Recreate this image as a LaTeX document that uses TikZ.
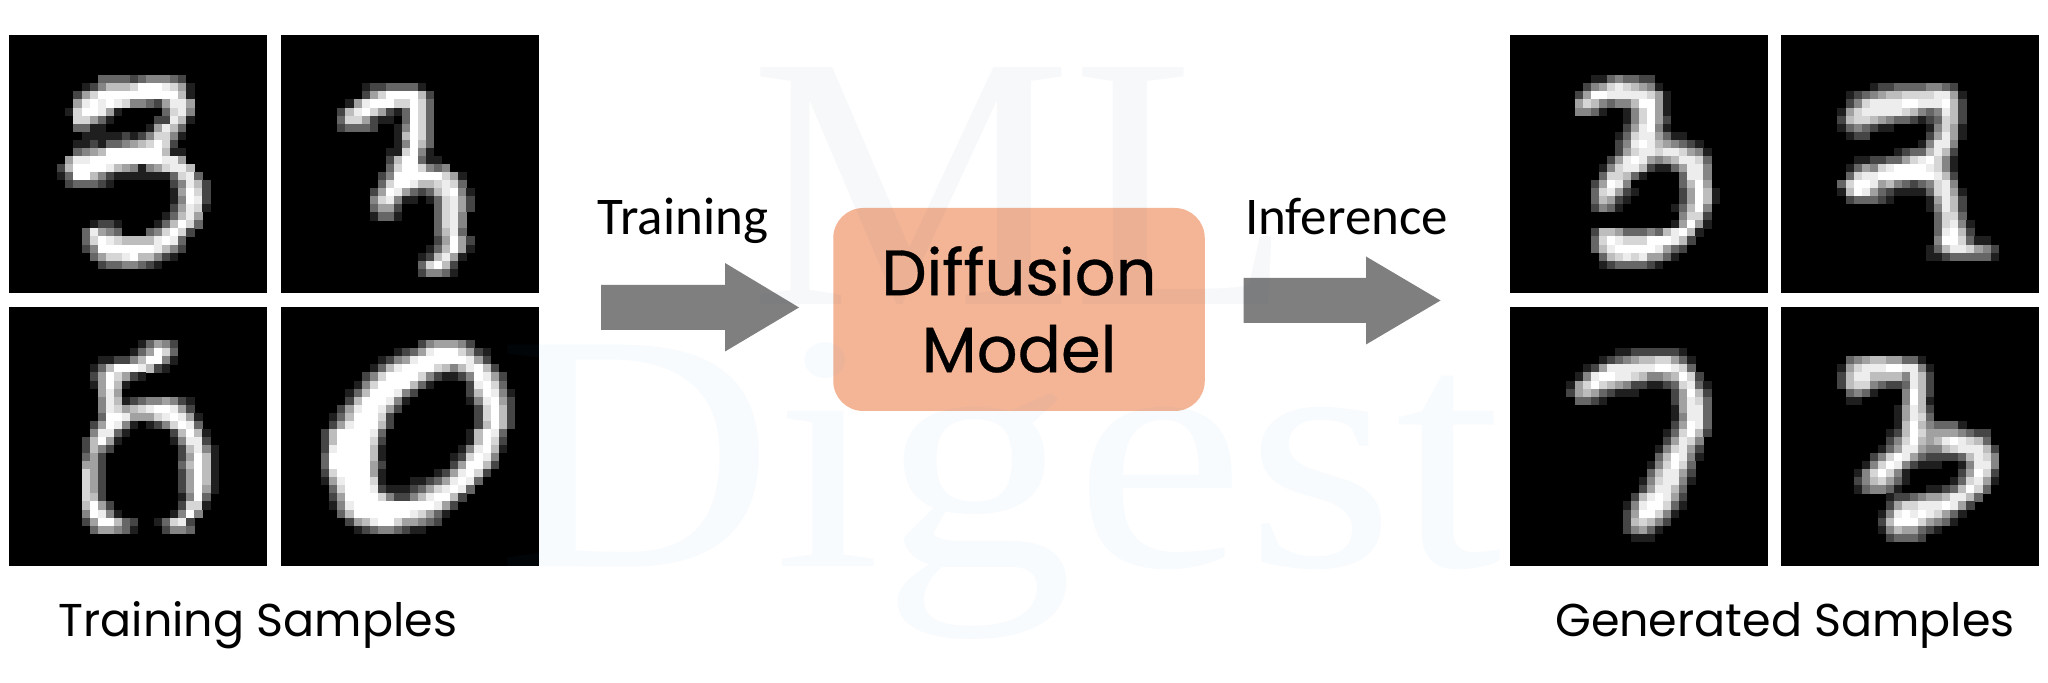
\documentclass[tikz,border=0pt]{standalone}
\usepackage{fontspec}
\setmainfont{Liberation Serif}
\newfontfamily\handfont{Poppins}
\newfontfamily\handboldfont[FakeBold=0.5]{Poppins}
\newfontfamily\labelfont{Carlito}
\definecolor{dg1}{gray}{0.12}
\definecolor{dg2}{gray}{0.27}
\definecolor{dg3}{gray}{0.40}
\definecolor{dg4}{gray}{0.52}
\definecolor{dg5}{gray}{0.63}
\definecolor{dg6}{gray}{0.74}
\definecolor{dg7}{gray}{0.84}
\definecolor{dg8}{gray}{0.93}
\definecolor{dg9}{gray}{1}
\definecolor{boxfill}{HTML}{F4B596}
\definecolor{arrowgray}{HTML}{7F7F7F}
\definecolor{markone}{HTML}{2F4F70}
\definecolor{marktwo}{HTML}{3F8FE0}
\newcount\dgc
\newcount\dgr
\newcommand\dgbegin[4]{\def\dgX{#1}\def\dgY{#2}\def\dgcz{#3}\dgr=#4\relax}
\newcommand\dr[1]{\dgc=\dgcz\relax\dgloop#1\relax\advance\dgr by 1\relax}
\def\dgloop#1{\ifx#1\relax\else\ifx#1.\else\fill[dg#1] ({\dgX+8.06*\the\dgc},{\dgY+8.06*\the\dgr}) rectangle ++(8.2,8.2);\fi\advance\dgc by 1\relax\expandafter\dgloop\fi}
\tikzset{
  panel/.style={fill=black,inner sep=0pt,outer sep=0pt,minimum width=129pt,minimum height=129pt,anchor=north west},
  modelbox/.style={fill=boxfill,rounded corners=15pt,inner sep=0pt,minimum width=185.75pt,minimum height=101.5pt,align=center},
  blockarrow/.style={fill=arrowgray},
  handtext/.style={inner sep=0pt,anchor=base,font=\handfont\fontsize{23}{28}\selectfont},
  steplabel/.style={inner sep=0pt,anchor=base,font=\labelfont\fontsize{26.5}{32}\selectfont},
  watermark/.style={inner sep=0pt,anchor=base west}
}
\begin{document}
\begin{tikzpicture}[x=0.5pt,y=-0.5pt]
\useasboundingbox (0,0) rectangle (2048,683);
\fill[white] (0,0) rectangle (2048,683);
% model box and arrows
\node[modelbox] (model) at (1019,309.5) {};
\fill[blockarrow] (601,285) -- (725,285) -- (725,263) -- (799,307.5) -- (725,351.5) -- (725,330) -- (601,330) -- cycle;
\fill[blockarrow] (1243.5,278) -- (1366,278) -- (1366,256.5) -- (1440.5,300.5) -- (1366,344.5) -- (1366,323) -- (1243.5,323) -- cycle;
% panels
\node[panel] (p1) at (9,35) {};
\node[panel] (p2) at (281,35) {};
\node[panel] (p3) at (9,307.5) {};
\node[panel] (p4) at (281,307.5) {};
\node[panel] (p5) at (1510,35) {};
\node[panel] (p6) at (1781,35) {};
\node[panel] (p7) at (1510,307.5) {};
\node[panel] (p8) at (1781,307.5) {};
% digit 3
\dgbegin{9}{35}{6}{5}
\dr{.....33332344432}
\dr{...12466679998751}
\dr{..257999999999961}
\dr{..589898744325885}
\dr{.1799851.....3784}
\dr{..77531.....22861}
\dr{..3311.....15863}
\dr{...1111121247741}
\dr{..1121334567972}
\dr{..34569999999611}
\dr{.588999999999885}
\dr{26999986541457886}
\dr{139964211111113783}
\dr{.233321.......24862}
\dr{..............15972}
\dr{..............14982}
\dr{..............25871}
\dr{.............13685}
\dr{....1221....136973}
\dr{...38543...347972}
\dr{...3798766668983}
\dr{...2499999998642}
\dr{....35778966421}
\dr{.....23344321}
% digit 3b
\dgbegin{281}{35}{7}{6}
\dr{...12233331}
\dr{...257999962}
\dr{.15899977973}
\dr{268975213973}
\dr{3775211.3973}
\dr{23332..14973}
\dr{.......16973}
\dr{.......14963}
\dr{......117941}
\dr{......2699311}
\dr{......37997434}
\dr{.....24999999751}
\dr{.....37998667873}
\dr{....2598532368941}
\dr{....478411.137852}
\dr{....3552....37852}
\dr{....1331....3784}
\dr{............3784}
\dr{............3683}
\dr{............25952}
\dr{...........136951}
\dr{..........126851}
\dr{..........37962}
\dr{..........24431}
% digit 5
\dgbegin{9}{308}{9}{4}
\dr{.......13542}
\dr{......135973}
\dr{..1122469941}
\dr{.1369998621}
\dr{.2597521}
\dr{.15961}
\dr{..585}
\dr{..486123445421}
\dr{..487567899852}
\dr{..3998555789851}
\dr{.259841.1247983}
\dr{.48831.....26961}
\dr{26951......14882}
\dr{2642........26841}
\dr{352.........25961}
\dr{552.........36961}
\dr{752.........25961}
\dr{752.........25961}
\dr{752.........25951}
\dr{762.........1493}
\dr{6952........2771}
\dr{49841......1494}
\dr{2599632..13782}
\dr{.355431...2443}
% digit 0
\dgbegin{281}{308}{5}{4}
\dr{............2455542}
\dr{.........123589997521}
\dr{.......12458999999852}
\dr{......1368999976468962}
\dr{.....247999974211249852}
\dr{....1479999631....28973}
\dr{...136999842......269841}
\dr{...26999841.......148952}
\dr{..25899852.........27962}
\dr{.13699972..........27962}
\dr{.25899962..........26962}
\dr{26999983..........16983}
\dr{26999972..........16972}
\dr{28999961.........148961}
\dr{39999961........127984}
\dr{39999952........259962}
\dr{27999951......1258972}
\dr{15899971...112358983}
\dr{.379998211123578983}
\dr{.25999974224689962}
\dr{.1489999999999852}
\dr{..36999999987531}
\dr{...256899755432}
\dr{....123443211}
% generated 3
\dgbegin{1510}{35}{8}{5}
\dr{..11343322}
\dr{.2457876541}
\dr{259988888751}
\dr{576434469951}
\dr{4431..147951}
\dr{......147952}
\dr{......258941}
\dr{.....137885311}
\dr{.....24898654321}
\dr{.....257887887541}
\dr{....2589854568873}
\dr{...14788621135884}
\dr{...377631....3884}
\dr{..25984......3695}
\dr{..378521.....25961}
\dr{..36521......25961}
\dr{..2431......13694}
\dr{.............4772}
\dr{............15951}
\dr{..26653334368961}
\dr{..3798777999862}
\dr{..368999998532}
\dr{...3678785531}
\dr{...12333321}
% generated 7-like
\dgbegin{1781}{35}{7}{6}
\dr{....12233334432}
\dr{.123456677778851}
\dr{.247888899888962}
\dr{1578888876434862}
\dr{2677654332123762}
\dr{1343211....14751}
\dr{.122.......25851}
\dr{..........14884}
\dr{.......12336862}
\dr{..1122335789741}
\dr{.13547899998741}
\dr{.37889999999862}
\dr{379985643234784}
\dr{1698532111137851}
\dr{.233321....15862}
\dr{...........14862}
\dr{............3773}
\dr{............37841}
\dr{............38962}
\dr{............4997311}
\dr{...........136887542}
\dr{...........112333331}
% generated 7
\dgbegin{1510}{308}{7}{5}
\dr{......112222221}
\dr{....123456677531}
\dr{..12588888899873}
\dr{.1489988764456972}
\dr{157976542211237831}
\dr{256532111....25962}
\dr{.3321........25873}
\dr{.............15883}
\dr{.............14883}
\dr{.............25983}
\dr{............137962}
\dr{............25874}
\dr{...........147852}
\dr{...........369841}
\dr{..........147973}
\dr{..........368852}
\dr{.........1478841}
\dr{.........258863}
\dr{........2689852}
\dr{.......14899731}
\dr{.......2599741}
\dr{.......267642}
\dr{.......24531}
\dr{........111}
% generated 3b
\dgbegin{1781}{308}{7}{6}
\dr{.3456655331}
\dr{157888998841}
\dr{268866664862}
\dr{267743223862}
\dr{.3431...4962}
\dr{.11.....4961}
\dr{.......15862}
\dr{.......15873}
\dr{.......169643331}
\dr{......1269755554322}
\dr{......2479656898763}
\dr{.....135885446788862}
\dr{....2479853222236874}
\dr{...1479842111..14884}
\dr{..1479741......25972}
\dr{..2467531.....137851}
\dr{..134431...11236973}
\dr{......122345568863}
\dr{......25778889852}
\dr{.....14898987531}
\dr{.....2699975431}
\dr{.....14655321}
\dr{......23332}
% watermark, faintly over everything but the labels
\node[watermark,text=markone,text opacity=.04] (markml) at (750,305) {\fontsize{181}{181}\selectfont ML};
\node[watermark,text=marktwo,text opacity=.035] (markdigest) at (496,566) {\scalebox{1.14}[1]{\fontsize{169}{169}\selectfont Digest}};
% texts
\node[inner sep=0pt,align=center,font=\handboldfont\fontsize{32}{38.5}\selectfont] (modeltext) at (model.center) {Diffusion\\Model};
\node[steplabel] (train) at (683,235) {Training};
\node[steplabel] (infer) at (1346.5,235) {Inference};
\node[handtext] (trainsamples) at (258,636) {Training Samples};
\node[handtext] (gensamples) at (1785,636) {Generated Samples};
\end{tikzpicture}
\end{document}
